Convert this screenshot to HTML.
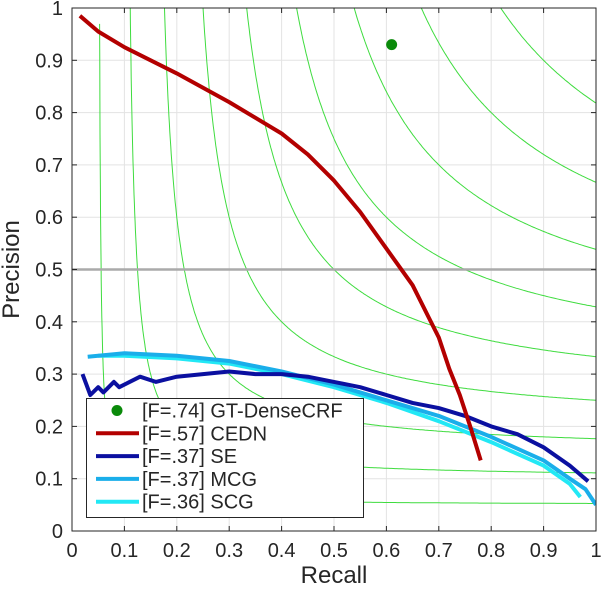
<!DOCTYPE html>
<html><head><meta charset="utf-8"><style>
body{margin:0;background:#fff}
svg text{font-family:"Liberation Sans",sans-serif;fill:#262626}
</style></head><body>
<svg id="c" width="603" height="587" xmlns="http://www.w3.org/2000/svg"></svg>
<script>
const xTicks=[0,0.1,0.2,0.3,0.4,0.5,0.6,0.7,0.8,0.9,1];
const yTicks=[0,0.1,0.2,0.3,0.4,0.5,0.6,0.7,0.8,0.9,1];
const tickLabels=["0","0.1","0.2","0.3","0.4","0.5","0.6","0.7","0.8","0.9","1"];
const isoF=[0.1,0.2,0.3,0.4,0.5,0.6,0.7,0.8,0.9];
const gtPoint=[0.61,0.93];
const cednR=[0.015,0.05,0.1,0.2,0.3,0.4,0.45,0.5,0.55,0.6,0.65,0.68,0.7,0.72,0.74,0.76,0.78];
const cednP=[0.985,0.955,0.925,0.875,0.82,0.76,0.72,0.67,0.61,0.54,0.47,0.41,0.37,0.31,0.26,0.2,0.135];
const seR=[0.02,0.035,0.05,0.06,0.08,0.09,0.13,0.16,0.2,0.25,0.3,0.35,0.4,0.45,0.5,0.55,0.6,0.65,0.7,0.75,0.8,0.85,0.9,0.95,0.985];
const seP=[0.3,0.26,0.275,0.265,0.285,0.275,0.295,0.285,0.295,0.3,0.305,0.3,0.3,0.295,0.285,0.275,0.26,0.245,0.235,0.22,0.2,0.185,0.16,0.125,0.095];
const mcgR=[0.03,0.1,0.2,0.3,0.4,0.5,0.6,0.7,0.8,0.9,0.95,0.98,1.0];
const mcgP=[0.333,0.34,0.335,0.325,0.305,0.28,0.25,0.22,0.18,0.135,0.1,0.08,0.05];
const scgR=[0.05,0.1,0.2,0.3,0.4,0.5,0.6,0.7,0.8,0.9,0.95,0.97];
const scgP=[0.335,0.335,0.33,0.32,0.3,0.275,0.245,0.21,0.17,0.125,0.09,0.065];
const legendLabels=["[F=.74] GT-DenseCRF","[F=.57] CEDN","[F=.37] SE","[F=.37] MCG","[F=.36] SCG"];

const X0=72,X1=596,Y0=531,Y1=8;
const sx=v=>X0+(X1-X0)*v, sy=v=>Y0-(Y0-Y1)*v;
const svg=document.getElementById('c');
const NS="http://www.w3.org/2000/svg";
function mk(t,a,p){const e=document.createElementNS(NS,t);for(const k in a)e.setAttribute(k,a[k]);(p||svg).appendChild(e);return e;}
const defs=mk('defs',{});const cp=mk('clipPath',{id:'pc'},defs);mk('rect',{x:X0,y:Y1,width:X1-X0,height:Y0-Y1},cp);

xTicks.forEach(v=>{const l=mk('line',{x1:sx(v),x2:sx(v),y1:Y0,y2:Y1,stroke:'#e3e3e3','stroke-width':1});

});
yTicks.forEach(v=>{const l=mk('line',{y1:sy(v),y2:sy(v),x1:X0,x2:X1,stroke:'#e3e3e3','stroke-width':1});

});

const g=mk('g',{'clip-path':'url(#pc)'});
isoF.forEach(F=>{let d='';for(let i=0;i<=400;i++){const r=F/2+0.0001+(1-F/2)*Math.pow(i/400,2);const p=F*r/(2*r-F);if(p>1.05)continue;d+=(d?'L':'M')+sx(r).toFixed(1)+','+sy(Math.min(p,1.05)).toFixed(1);}
const pth=mk('path',{d:d,fill:'none',stroke:'#3fdc3f','stroke-width':1},g);

});
const hl=mk('line',{x1:X0,x2:X1,y1:sy(0.5),y2:sy(0.5),stroke:'#aaaaaa','stroke-width':2.5},g);



function series(R,P,col,name){const d=R.map((r,i)=>(i?'L':'M')+sx(r).toFixed(1)+','+sy(P[i]).toFixed(1)).join('');
const p=mk('path',{d:d,fill:'none',stroke:col,'stroke-width':4,'stroke-linejoin':'round'},g);

}
series(scgR,scgP,'#22e8f5','scg-curve');
series(mcgR,mcgP,'#1aaeea','mcg-curve');
series(seR,seP,'#0b10a0','se-curve');
series(cednR,cednP,'#b30000','cedn-curve');
const gp=mk('circle',{cx:sx(gtPoint[0]),cy:sy(gtPoint[1]),r:5.5,fill:'#0a8a0a'},g);



const ax=mk('rect',{x:X0,y:Y1,width:X1-X0,height:Y0-Y1,fill:'none',stroke:'#262626','stroke-width':1});


xTicks.forEach((v,i)=>{mk('line',{x1:sx(v),x2:sx(v),y1:Y0,y2:Y0-5,stroke:'#262626'});mk('line',{x1:sx(v),x2:sx(v),y1:Y1,y2:Y1+5,stroke:'#262626'});
const t=mk('text',{x:sx(v),y:Y0+26,'text-anchor':'middle','font-size':20});t.textContent=tickLabels[i];

});
yTicks.forEach((v,i)=>{mk('line',{y1:sy(v),y2:sy(v),x1:X0,x2:X0+5,stroke:'#262626'});mk('line',{y1:sy(v),y2:sy(v),x1:X1,x2:X1-5,stroke:'#262626'});
const t=mk('text',{x:X0-9,y:sy(v)+7,'text-anchor':'end','font-size':20});t.textContent=tickLabels[i];

});
const xt=mk('text',{x:(X0+X1)/2,y:583,'text-anchor':'middle','font-size':24});xt.textContent='Recall';


const yt=mk('text',{x:0,y:0,'text-anchor':'middle','font-size':24,transform:`translate(19,${(Y0+Y1)/2}) rotate(-90)`});yt.textContent='Precision';



const lg=mk('g',{});


mk('rect',{x:86.5,y:398.5,width:277,height:119,fill:'#fff',stroke:'#262626','stroke-width':1},lg);
const cols=['#0a8a0a','#b30000','#0b10a0','#1aaeea','#22e8f5'];
legendLabels.forEach((s,i)=>{const y=410.5+i*22.8;
if(i==0)mk('circle',{cx:117,cy:y,r:5.5,fill:cols[0]},lg);else mk('line',{x1:96,x2:139,y1:y,y2:y,stroke:cols[i],'stroke-width':4},lg);
const t=mk('text',{x:142,y:y+7,'font-size':20},lg);t.textContent=s;

});
</script>
</body></html>
